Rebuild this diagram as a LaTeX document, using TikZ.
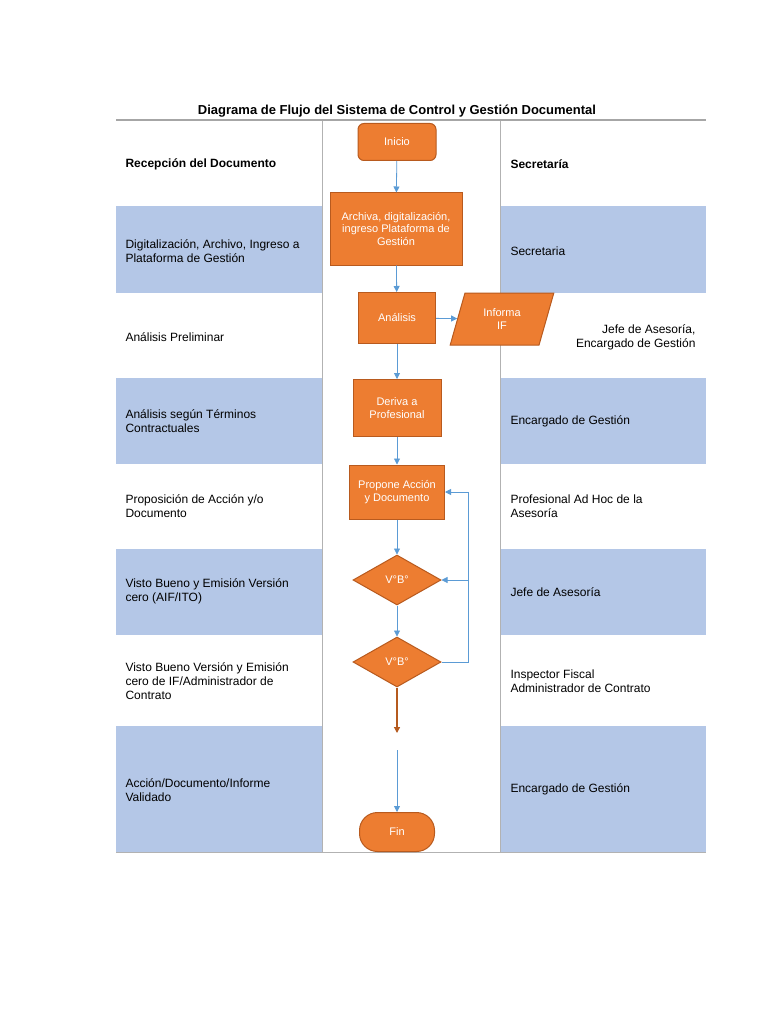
\documentclass[tikz,border=0pt]{standalone}
\usepackage{fontspec}
\setmainfont{Liberation Sans}
\usetikzlibrary{shapes.geometric,arrows.meta}
\definecolor{org}{HTML}{ED7D31}
\definecolor{orgd}{HTML}{B85A1E}
\definecolor{band}{HTML}{B4C7E7}
\definecolor{arr}{HTML}{5B9BD5}
\definecolor{brn}{HTML}{B55A1E}
\begin{document}
\begin{tikzpicture}[x=1pt,y=-1pt,
 box/.style={draw=orgd,line width=1pt,fill=org,text=white,align=center,font=\fontsize{11}{12.5}\selectfont,inner sep=0pt},
 lbl/.style={anchor=west,align=left,font=\fontsize{12}{14}\selectfont},
 hdr/.style={anchor=west,font=\bfseries\fontsize{12}{14}\selectfont},
 ar/.style={draw=arr,line width=0.8pt,-{Triangle[length=6pt,width=6pt]}}]
\useasboundingbox (0,0) rectangle (768,1024);
\fill[white] (0,0) rectangle (768,1024);
% bands
\foreach \a/\b in {206/293,378/464,549/635,726/852}{
 \fill[band] (116,\a) rectangle (322,\b);
 \fill[band] (500,\a) rectangle (706,\b);}
\draw[gray!60,line width=0.5pt] (322,120) -- (322,852) (500,120) -- (500,852);
\draw[gray!60,line width=0.5pt] (116,852) -- (706,852);
\draw[gray!70,line width=2pt] (116,120) -- (706,120);
\node[font=\bfseries\fontsize{13}{15}\selectfont] (title) at (397,111) {Diagrama de Flujo del Sistema de Control y Gestión Documental};
\node[hdr] (h1) at (122,164) {Recepción del Documento};
\node[hdr] (h2) at (507,164) {Secretaría};
% left labels
\node[lbl] (l1) at (122,251) {Digitalización, Archivo, Ingreso a\\Plataforma de Gestión};
\node[lbl] (l2) at (122,337) {Análisis Preliminar};
\node[lbl] (l3) at (122,421) {Análisis según Términos\\Contractuales};
\node[lbl] (l4) at (122,506) {Proposición de Acción y/o\\Documento};
\node[lbl] (l5) at (122,591) {Visto Bueno y Emisión Versión\\cero (AIF/ITO)};
\node[lbl] (l6) at (122,681) {Visto Bueno Versión y Emisión\\cero de IF/Administrador de\\Contrato};
\node[lbl] (l7) at (122,790) {Acción/Documento/Informe\\Validado};
% right labels
\node[lbl] (r1) at (507,251) {Secretaria};
\node[lbl,anchor=east,align=right] (r2) at (699,337) {Jefe de Asesoría,\\Encargado de Gestión};
\node[lbl] (r3) at (507,421) {Encargado de Gestión};
\node[lbl] (r4) at (507,506) {Profesional Ad Hoc de la\\Asesoría};
\node[lbl] (r5) at (507,592) {Jefe de Asesoría};
\node[lbl] (r6) at (507,681) {Inspector Fiscal\\Administrador de Contrato};
\node[lbl] (r7) at (507,789) {Encargado de Gestión};
% flow nodes
\node[box,rounded corners=6pt,minimum width=78pt,minimum height=37pt] (ini) at (397,142) {Inicio};
\node[box,minimum width=132pt,minimum height=72pt] (arc) at (396,229) {Archiva, digitalización,\\ingreso Plataforma de\\Gestión};
\node[box,minimum width=77pt,minimum height=51pt] (ana) at (397,318) {Análisis};
\node[box,trapezium,trapezium left angle=70,trapezium right angle=110,minimum width=104pt,minimum height=52pt,trapezium stretches=true] (inf) at (502,319) {Informa\\IF};
\node[box,minimum width=88pt,minimum height=57pt] (der) at (397,408) {Deriva a\\Profesional};
\node[box,minimum width=95pt,minimum height=54pt] (pro) at (397,492) {Propone Acción\\y Documento};
\node[box,diamond,aspect=1.76,minimum width=88pt,minimum height=50pt] (d1) at (397,580) {V°B°};
\node[box,diamond,aspect=1.76,minimum width=88pt,minimum height=50pt] (d2) at (397,662) {V°B°};
\node[box,rounded corners=18pt,minimum width=75pt,minimum height=39pt] (fin) at (397,832) {Fin};
\coordinate (bend) at (397,733);
\coordinate (st) at (397,750);
\coordinate (fb) at (468,662);
\coordinate (fj) at (468,580);
\draw[ar] (ini) -- (arc);
\draw[ar] (arc) -- (ana);
\draw[ar] (ana) -- (inf);
\draw[ar] (ana) -- (der);
\draw[ar] (der) -- (pro);
\draw[ar] (pro) -- (d1);
\draw[ar] (d1) -- (d2);
\draw[draw=brn,line width=1.2pt,-{Triangle[length=6pt,width=6pt]}] (d2.south) -- (bend);
\draw[ar] (st) -- (fin);
\draw[ar] (d2.east) -- (fb) |- (pro.east);
\draw[ar] (fj) -- (d1.east);
\end{tikzpicture}
\end{document}
